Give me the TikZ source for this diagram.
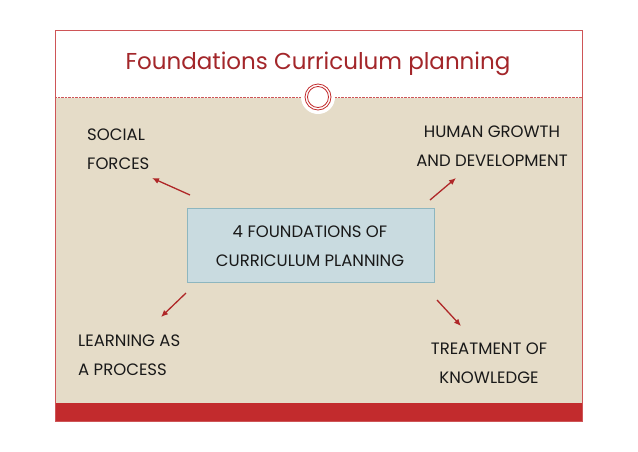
\documentclass[tikz,border=0pt]{standalone}
\usepackage{fontspec}
\setmainfont{Poppins}
\usepackage{tikz}
\usetikzlibrary{arrows.meta}

\definecolor{beige}{HTML}{E5DCC8}
\definecolor{barred}{HTML}{C22B2D}
\definecolor{titlered}{HTML}{A3262A}
\definecolor{boxfill}{HTML}{C9DBE0}
\definecolor{boxline}{HTML}{8DB6BF}

\tikzset{
	topic/.style={font=\fontsize{16.5}{29}\selectfont, text=black!90, inner sep=0pt},
	pointer/.style={-{Latex[length=7pt, width=6pt]}, line width=1.3pt, draw=barred!90!black},
}

\begin{document}
\begin{tikzpicture}[x=1pt, y=-1pt]
	
	\useasboundingbox[fill=white] (0, 0) rectangle (638, 451);
	
	% slide
	\fill[beige] (55, 98) rectangle (582, 403);
	\fill[barred] (55, 403) rectangle (582, 421);
	\draw[barred!80, thin] (55, 30) rectangle (582, 421);
	\draw[barred!80, densely dotted, thin] (55, 97) -- (582, 97);
	\node[shape=circle, fill=white, minimum size=34pt] (ring) at (318, 97) {};
	\draw[barred, line width=0.8pt] (ring.center) circle (13);
	\draw[barred, line width=0.8pt] (ring.center) circle (10.5);
	
	\node[font=\fontsize{23}{26}\selectfont, text=titlered] (title) at (318, 64) {Foundations Curriculum planning};
	
	\node[shape=rectangle, draw=boxline, fill=boxfill, minimum width=247pt, minimum height=74pt] (center) at (310.5, 245) {};
	\node[topic, align=center] (centertext) at (310, 246) {4 FOUNDATIONS OF\\CURRICULUM PLANNING};
	
	\node[topic, align=left, anchor=west] (social) at (87, 149) {SOCIAL\\FORCES};
	\node[topic, align=center] (human) at (492, 146) {HUMAN GROWTH\\AND DEVELOPMENT};
	\node[topic, align=left, anchor=west] (learning) at (78, 355) {LEARNING AS\\A PROCESS};
	\node[topic, align=center] (treatment) at (489, 363) {TREATMENT OF\\KNOWLEDGE};
	
	\coordinate (a1) at (190, 195);
	\coordinate (b1) at (152, 178);
	\coordinate (a2) at (430, 200);
	\coordinate (b2) at (456, 178);
	\coordinate (a3) at (186, 293);
	\coordinate (b3) at (161, 317);
	\coordinate (a4) at (437, 300);
	\coordinate (b4) at (461, 326);
	
	\draw[pointer] (a1) -- (b1);
	\draw[pointer] (a2) -- (b2);
	\draw[pointer] (a3) -- (b3);
	\draw[pointer] (a4) -- (b4);

\end{tikzpicture}
\end{document}
